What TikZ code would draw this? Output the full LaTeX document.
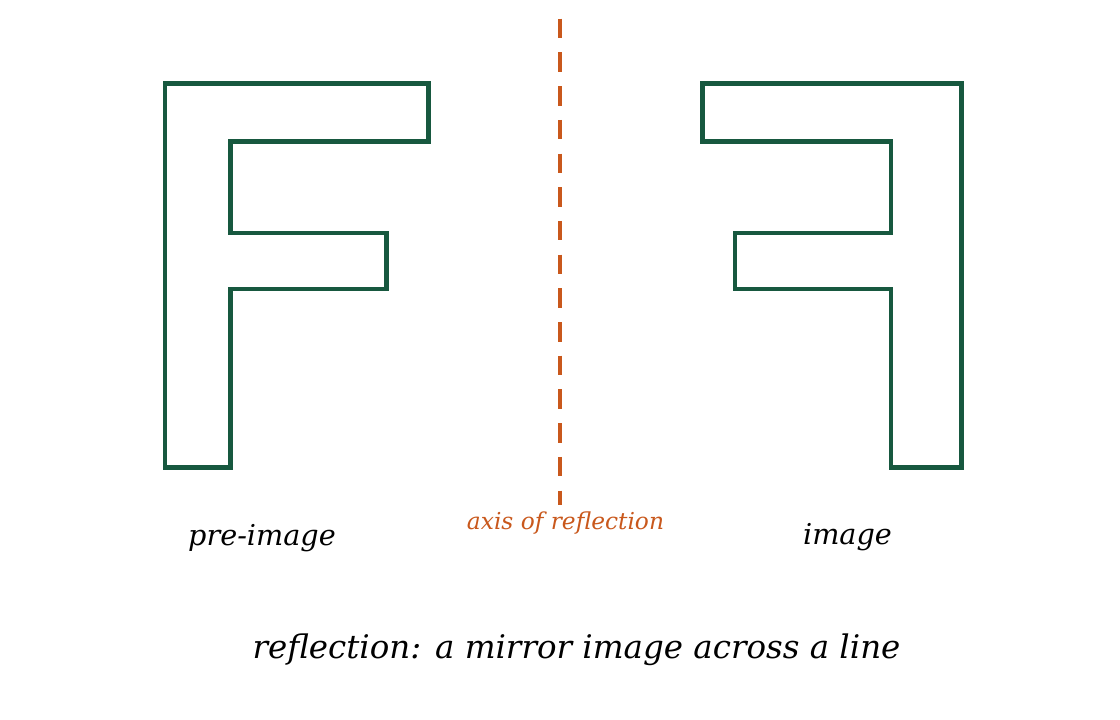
\documentclass[tikz,border=0pt]{standalone}
\usepackage{fontspec}
\setmainfont{DejaVu Serif}
\definecolor{fgreen}{HTML}{17583F}
\definecolor{axorange}{HTML}{C9581C}
\tikzset{
  fshape/.style={draw=fgreen, line width=4.7pt, line join=miter},
  axisline/.style={draw=axorange, line width=4pt, dash pattern=on 19.5pt off 14.2pt},
  lbl/.style={anchor=base, inner sep=0pt, font=\itshape\fontsize{28.7}{34}\selectfont, text=black},
  axlbl/.style={anchor=base, inner sep=0pt, font=\itshape\fontsize{23.3}{28}\selectfont, text=axorange},
  captionlbl/.style={anchor=base, inner sep=0pt, font=\itshape\fontsize{32.5}{38}\selectfont, text=black}
}
\begin{document}
\begin{tikzpicture}[x=1pt,y=-1pt]
\useasboundingbox[fill=white] (0,0) rectangle (1120,720);
% pre-image F
\draw[fshape] (165,83.7) -- (428.5,83.7) -- (428.5,141.7) -- (230.3,141.7) -- (230.3,233) -- (386.3,233) -- (386.3,289) -- (230.3,289) -- (230.3,467.7) -- (165,467.7) -- cycle;
% image F
\draw[fshape] (702.3,83.7) -- (961.3,83.7) -- (961.3,467.7) -- (891,467.7) -- (891,289) -- (735,289) -- (735,233) -- (891,233) -- (891,141.7) -- (702.3,141.7) -- cycle;
% axis
\coordinate (axtop) at (560.3,18.7);
\coordinate (axbot) at (560.3,505);
\draw[axisline] (axtop) -- (axbot);
\node[axlbl] (axislabel) at (565.5,529) {axis of reflection};
\node[lbl] (pre) at (262,545) {pre-image};
\node[lbl] (img) at (847.5,544) {image};
\node[captionlbl] (caption) at (576.5,658) {reflection: a mirror image across a line};
\end{tikzpicture}
\end{document}
